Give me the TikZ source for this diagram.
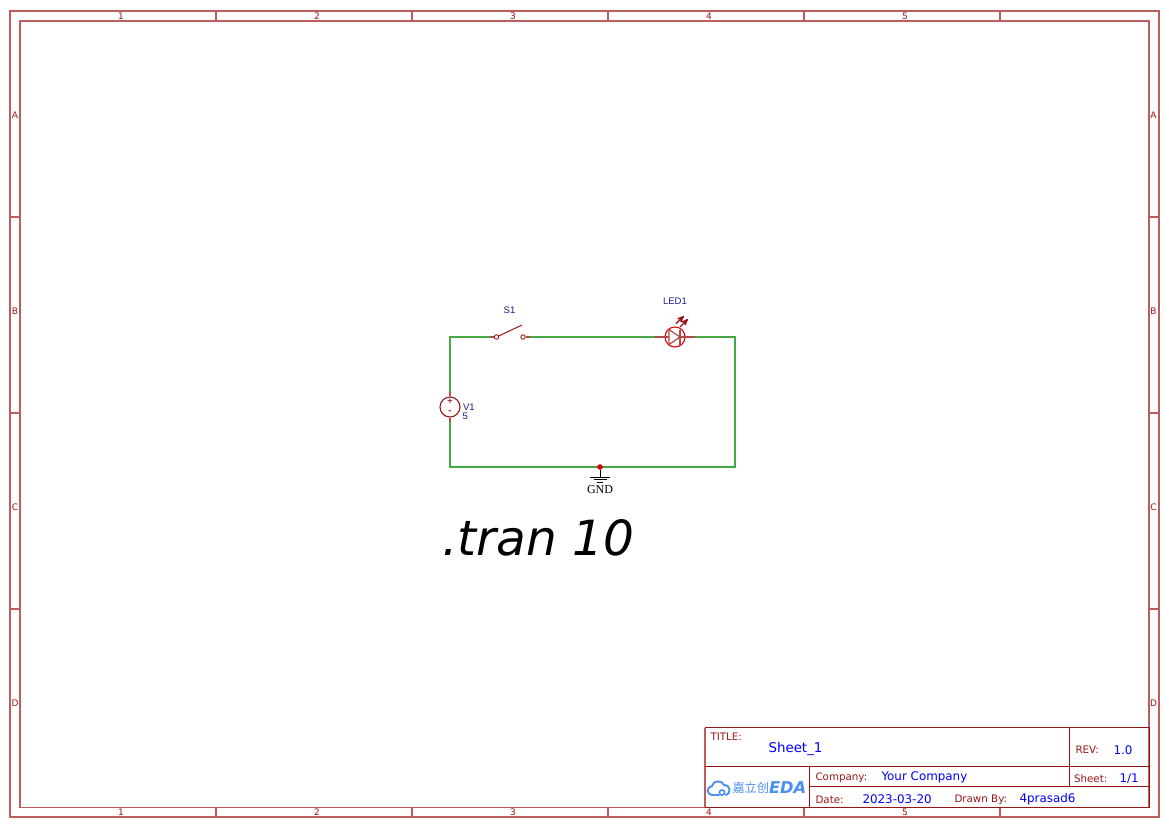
\documentclass[tikz,border=0pt]{standalone}
\usepackage{fontspec}
\setmainfont{DejaVu Sans}
\setsansfont{Liberation Sans}
\newfontfamily\cjkfont{Noto Sans CJK SC}
\newfontfamily\gndfont{Liberation Serif}
\usepackage{tikz}
\usetikzlibrary{arrows}
\usetikzlibrary{positioning}
\definecolor{framered}{HTML}{991515}
\definecolor{framepink}{HTML}{BC5E5E}
\definecolor{pinred}{HTML}{B24A4A}
\definecolor{wiregreen}{HTML}{45A845}
\definecolor{labelblue}{HTML}{1A1A8C}
\definecolor{logoblue}{HTML}{4A90F0}

\begin{document}
\begin{tikzpicture}[x=1pt,y=-1pt,line width=1pt,
  frame/.style={draw=framepink,line width=1.5pt},
  block/.style={draw=framered,line width=1pt},
  wire/.style={draw=wiregreen,line width=1.2pt},
  part/.style={draw=pinred,line width=1.2pt},
  border text/.style={text=framered,inner sep=0pt,font=\fontsize{9}{9}\selectfont},
  head text/.style={text=framered,inner sep=0pt,anchor=west,font=\fontsize{10.3}{11}\selectfont},
  value text/.style={text=blue,inner sep=0pt,anchor=west,font=\fontsize{11.9}{12}\selectfont},
  part text/.style={text=labelblue,inner sep=0pt,font=\sffamily\fontsize{9.5}{10}\selectfont},
  pin/.style={circle,draw=framered,line width=.9pt,fill=white,inner sep=0pt,minimum size=4.4pt},
  sym/.style={circle,draw=framered,line width=1.1pt,inner sep=0pt,minimum size=20pt}]

  \useasboundingbox (0,0) rectangle (1169,828);

  % sheet border
  \draw[frame] (10,11) rectangle (1159,817);
  \draw[frame] (20,21) rectangle (1149,807.5);
  \foreach \x in {216,412,608,804,1000} {
    \draw[frame] (\x,11) -- (\x,21);
    \draw[frame] (\x,807.5) -- (\x,817);
  }
  \foreach \y in {217,413,609} {
    \draw[frame] (10,\y) -- (20,\y);
    \draw[frame] (1149,\y) -- (1159,\y);
  }
  \foreach \n/\x in {1/121,2/317,3/513,4/709,5/905} {
    \node[border text] (top\n) at (\x,16.5) {\n};
    \node[border text] (bot\n) at (\x,812.5) {\n};
  }
  \foreach \n/\y in {A/115.5,B/311.5,C/507.5,D/703.5} {
    \node[border text] (left\n) at (15,\y) {\n};
    \node[border text] (right\n) at (1153.5,\y) {\n};
  }

  % title block
  \draw[frame] (705,727.5) -- (705,807.5);
  \draw[block] (705,727.5) -- (1149,727.5) -- (1149,807.5) -- (705,807.5);
  \draw[block] (705,766.5) -- (1149,766.5);
  \draw[block] (809,786.5) -- (1149,786.5);
  \draw[block] (809.5,766.5) -- (809.5,807.5);
  \draw[block] (1069.5,727.5) -- (1069.5,786.5);

  \node[head text] (title) at (710,736.5) {TITLE:};
  \node[value text,font=\fontsize{13.4}{14}\selectfont] (sheetname) at (768,749) {Sheet\_1};
  \node[head text] (rev) at (1075,750) {REV:};
  \node[value text] (revno) at (1113,750) {1.0};
  \node[head text] (company) at (815,777.5) {Company:};
  \node[value text] (companyname) at (881,777.5) {Your Company};
  \node[head text] (sheet) at (1073.5,779) {Sheet:};
  \node[value text] (sheetno) at (1119,779) {1/1};
  \node[head text] (date) at (815,799.5) {Date:};
  \node[value text] (dateval) at (862,799.5) {2023-03-20};
  \node[head text] (drawn) at (954,799.5) {Drawn By:};
  \node[value text] (drawnval) at (1019,799.5) {4prasad6};

  % logo
  \draw[logoblue,line width=1.9pt,line cap=round,line join=round]
    (719,795) -- (713,795) .. controls (706,795) and (706,787) .. (712,786)
    .. controls (713,780) and (722,780) .. (724,785)
    .. controls (731,785) and (731,794) .. (726,795);
  \draw[logoblue,line width=1.6pt] (722,792.5) circle (2.6);
  \node[inner sep=0pt,anchor=west,text=logoblue,font=\cjkfont\fontsize{12.2}{13}\selectfont] (logocn) at (732,788) {嘉立创};
  \node[inner sep=0pt,anchor=west,text=logoblue,font=\bfseries\itshape\fontsize{16.3}{17}\selectfont] (logoen) at (768.5,788) {EDA};

  % circuit
  \node[sym] (V1) at (450,407) {};
  \node[inner sep=0pt,text=framered,font=\bfseries\fontsize{7.5}{8}\selectfont] (V1p) at (450,401.5) {+};
  \node[inner sep=0pt,text=framered,font=\bfseries\fontsize{8}{8}\selectfont] (V1m) at (450,412.5) {-};
  \coordinate (V1a) at (450,392);
  \coordinate (V1b) at (450,422);
  \node[part text,anchor=west] (V1name) at (462.5,407.5) {V1};
  \node[part text,anchor=west] (V1val) at (462,416.5) {5};

  \node[pin] (S1a) at (496.5,337) {};
  \node[pin] (S1b) at (523,337) {};
  \coordinate (S1c) at (522,325);
  \coordinate (S1l) at (490,337);
  \coordinate (S1r) at (530,337);
  \node[part text] (S1name) at (509.5,310.5) {S1};

  \node[sym,draw=red!90!black] (LED1) at (675,337) {};
  \coordinate (LED1a) at (655,337);
  \coordinate (LED1c) at (695,337);
  \coordinate (LED1t) at (669,337);
  \coordinate (LED1k) at (680,337);
  \node[part text] (LED1name) at (675,301.5) {LED1};

  \coordinate (TL) at (450,337);
  \coordinate (TR) at (735,337);
  \coordinate (BR) at (735,467);
  \coordinate (BL) at (450,467);

  % wires
  \draw[wire] (V1a) -- (TL) -- (S1l);
  \draw[wire] (S1r) -- (LED1a);
  \draw[wire] (LED1c) -- (TR) -- (BR) -- (BL) -- (V1b);

  % pins
  \draw[part] (V1a) -- (V1);
  \draw[part] (V1b) -- (V1);
  \draw[part] (S1l) -- (S1a);
  \draw[part] (S1r) -- (S1b);
  \draw[draw=framered,line width=1pt] (S1a) -- (S1c);
  \draw[part] (LED1a) -- (LED1t);
  \draw[part] (LED1k) -- (LED1c);

  % led symbol
  \draw[part] (669,329.5) -- (669,344.5) -- (680,337) -- cycle;
  \draw[part] (680,329.5) -- (680,344.5);
  \draw[-stealth',framered,line width=1.3pt] (676,323.5) -- (684,316);
  \draw[-stealth',framered,line width=1.3pt] (680,327) -- (688,319);

  % ground
  \node[circle,fill=red!85!black,inner sep=0pt,minimum size=5.6pt] (GNDdot) at (600,467) {};
  \coordinate (GNDbar) at (600,477);
  \node[inner sep=0pt,font=\gndfont\fontsize{12}{12}\selectfont] (GND) at (600,489.5) {GND};
  \draw[black,line width=.9pt] (GNDdot) -- (GNDbar);
  \draw[black,line width=.9pt] (590,477) -- (610,477);
  \draw[black,line width=.9pt] (593.5,479.5) -- (606.5,479.5);
  \draw[black,line width=.9pt] (597,482) -- (603,482);

  % sim command
  \node[inner sep=0pt,anchor=west,font=\itshape\fontsize{48.5}{49}\selectfont] (tran) at (442,537.5) {.tran 10};
\end{tikzpicture}
\end{document}
